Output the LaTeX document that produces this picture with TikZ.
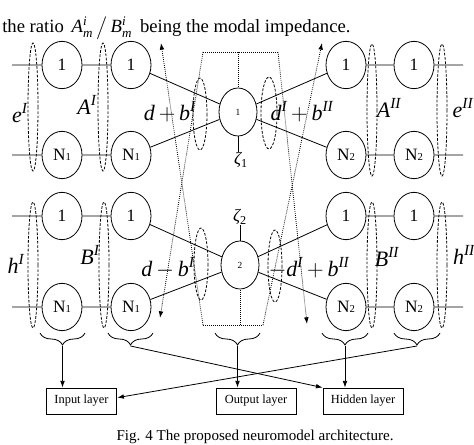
\documentclass[tikz,border=0pt]{standalone}
\usepackage{amsmath}
\usepackage{fontspec}
\setmainfont{Liberation Serif}
\usetikzlibrary{shapes.geometric,arrows.meta,decorations.pathreplacing}
\newcommand{\vi}[1]{\textit{#1}}
\newcommand{\fs}[1]{\fontsize{#1}{#1}\selectfont}

\begin{document}
\begin{tikzpicture}[x=0.75pt,y=-0.75pt,
  neuron/.style={ellipse, draw, line width=0.6pt, minimum width=30pt, minimum height=35.5pt, inner sep=0pt, font=\fs{13}},
  hub/.style={neuron, minimum width=28.5pt, minimum height=36pt, font=\fs{7}},
  layer/.style={draw, line width=0.6pt, minimum height=19.5pt, inner sep=0pt, font=\fs{9.3}},
  ring/.style={line width=0.6pt, dash pattern=on 2pt off 1.2pt},
  dots/.style={line width=0.6pt, dash pattern=on 0.6pt off 0.9pt},
  lbl/.style={font=\fs{16.5}, inner sep=0pt},
  wire/.style={line width=0.6pt},
  curly/.style={line width=0.6pt, decorate, decoration={brace, amplitude=9pt}},
  feed/.style={line width=0.6pt, -{Latex[length=5pt,width=3.5pt]}}]

  \useasboundingbox (0,0) rectangle (474,445);
  \node[anchor=west, font=\fs{14}, inner sep=0pt] (title) at (2,28)
    {the ratio\ \,$\vi{A}^{\vi{i}}_{\vi{m}}\,\big/\,\vi{B}^{\vi{i}}_{\vi{m}}$\,\ being the modal impedance.};

  \node[neuron] (a1) at (62,65) {1};
  \node[neuron] (aN) at (62,155) {N{\fs{8}1}};
  \node[neuron] (b1) at (131,65) {1};
  \node[neuron] (bN) at (131,155) {N{\fs{8}1}};
  \node[hub] (z1) at (238,112) {1};
  \node[neuron] (c1) at (346,65) {1};
  \node[neuron] (cN) at (346,155) {N{\fs{8}2}};
  \node[neuron] (d1) at (414,65) {1};
  \node[neuron] (dN) at (414,155) {N{\fs{8}2}};

  \node[neuron] (e1) at (62,216) {1};
  \node[neuron] (eN) at (62,307) {N{\fs{8}1}};
  \node[neuron] (f1) at (131,216) {1};
  \node[neuron] (fN) at (131,307) {N{\fs{8}1}};
  \node[hub] (z2) at (240,265) {2};
  \node[neuron] (g1) at (346,216) {1};
  \node[neuron] (gN) at (346,307) {N{\fs{8}2}};
  \node[neuron] (h1) at (414,216) {1};
  \node[neuron] (hN) at (414,307) {N{\fs{8}2}};

  \coordinate (ina1) at (12,65);
  \coordinate (inaN) at (12,155);
  \coordinate (ine1) at (12,216);
  \coordinate (ineN) at (12,307);
  \coordinate (outd1) at (463,65);
  \coordinate (outdN) at (463,155);
  \coordinate (outh1) at (463,216);
  \coordinate (outhN) at (463,307);

  \draw[wire] (ina1) -- (a1) -- (b1) -- (z1) -- (c1) -- (d1) -- (outd1);
  \draw[wire] (inaN) -- (aN) -- (bN) -- (z1) -- (cN) -- (dN) -- (outdN);
  \draw[wire] (ine1) -- (e1) -- (f1) -- (z2) -- (g1) -- (h1) -- (outh1);
  \draw[wire] (ineN) -- (eN) -- (fN) -- (z2) -- (gN) -- (hN) -- (outhN);

  \draw[ring] (33,107) ellipse [x radius=5, y radius=64];
  \draw[ring] (103,107) ellipse [x radius=5, y radius=64];
  \draw[ring] (372,110) ellipse [x radius=5, y radius=66];
  \draw[ring] (442,110) ellipse [x radius=5, y radius=66];
  \draw[ring] (200,114) ellipse [x radius=7, y radius=36];
  \draw[ring] (269,113) ellipse [x radius=8, y radius=36];
  \draw[ring] (33,265) ellipse [x radius=5, y radius=63];
  \draw[ring] (104,265) ellipse [x radius=5, y radius=63];
  \draw[ring] (372,265) ellipse [x radius=5, y radius=63];
  \draw[ring] (442,265) ellipse [x radius=5, y radius=63];
  \draw[ring] (201,264) ellipse [x radius=7, y radius=36];
  \draw[ring] (275,266) ellipse [x radius=7, y radius=36];

  \node[font=\fs{13}, inner sep=0pt] (zeta1) at (241,160) {$\vi{ζ}_{\textup{1}}$};
  \node[font=\fs{13}, inner sep=0pt] (zeta2) at (240,217) {$\vi{ζ}_{\textup{2}}$};
  \draw[wire] (z1.south) -- (z1.south |- zeta1.north);
  \draw[wire] (z2.north) -- (z2.north |- zeta2.south);

  \coordinate (tl) at (203,52);
  \coordinate (tr) at (278,52);
  \coordinate (bl) at (203,325);
  \coordinate (br) at (263,325);
  \coordinate (upL) at (161,43);
  \coordinate (dnL) at (160,318);
  \coordinate (upR) at (322,43);
  \coordinate (dnR) at (307,324);
  \draw[dots] (tl) -- (tr);
  \draw[dots] (tl -| z1) -- (z1);
  \draw[dots] (bl) -- (br);
  \draw[dots] (bl -| z2) -- (z2);
  \draw[dots, -{Latex[length=5pt,width=3.5pt]}] (tl) -- (dnL);
  \draw[dots, -{Latex[length=5pt,width=3.5pt]}] (bl) -- (upL);
  \draw[dots, -{Latex[length=5pt,width=3.5pt]}] (tr) -- (dnR);
  \draw[dots, -{Latex[length=5pt,width=3.5pt]}] (br) -- (upR);

  \node[lbl] (eI) at (20,113) {$\vi{e}^{\vi{I}}$};
  \node[lbl] (AI) at (87,105) {$\vi{A}^{\vi{I}}$};
  \node[lbl] (dpb) at (170,112) {$\vi{d}\,{+}\,\vi{b}^{\vi{I}}$};
  \node[lbl] (dpbII) at (302,112) {$\vi{d}^{\vi{I}}\,{+}\,\vi{b}^{\vi{II}}$};
  \node[lbl] (AII) at (389,108) {$\vi{A}^{\vi{II}}$};
  \node[lbl] (eII) at (463,108) {$\vi{e}^{\vi{II}}$};
  \node[lbl] (hI) at (16,264) {$\vi{h}^{\vi{I}}$};
  \node[lbl] (BI) at (90,255) {$\vi{B}^{\vi{I}}$};
  \node[lbl] (dmb) at (168,268) {$\vi{d}\,{-}\,\vi{b}^{\vi{I}}$};
  \node[lbl] (mdpb) at (309,268) {${-}\vi{d}^{\vi{I}}\,{+}\,\vi{b}^{\vi{II}}$};
  \node[lbl] (BII) at (387,257) {$\vi{B}^{\vi{II}}$};
  \node[lbl] (hII) at (464,255) {$\vi{h}^{\vi{II}}$};

  \draw[curly] (85,333) -- (40,333);
  \draw[curly] (153,333) -- (108,333);
  \draw[curly] (260,333) -- (215,333);
  \draw[curly] (368,333) -- (322,333);
  \draw[curly] (440,333) -- (394,333);
  \coordinate (tA) at (62.5,346);
  \coordinate (tB) at (130.5,346);
  \coordinate (tZ) at (237.5,346);
  \coordinate (tC) at (345,346);
  \coordinate (tD) at (417,346);

  \node[layer, minimum width=53pt] (input) at (81.5,401) {Input layer};
  \node[layer, minimum width=60pt] (output) at (256,401) {Output layer};
  \node[layer, minimum width=60pt] (hidden) at (363,401) {Hidden layer};

  \draw[feed] (tA) -- (tA |- input.north);
  \draw[feed] (tB) -- (hidden.north west);
  \draw[feed] (tZ) -- (tZ |- output.north);
  \draw[feed] (tC) -- (tC |- hidden.north);
  \draw[feed] (tD) -- ([yshift=2.5pt]input.east);

  \node[font=\fs{11.3}, inner sep=0pt] (caption) at (255,437) {Fig. 4 The proposed neuromodel architecture.};
\end{tikzpicture}
\end{document}
